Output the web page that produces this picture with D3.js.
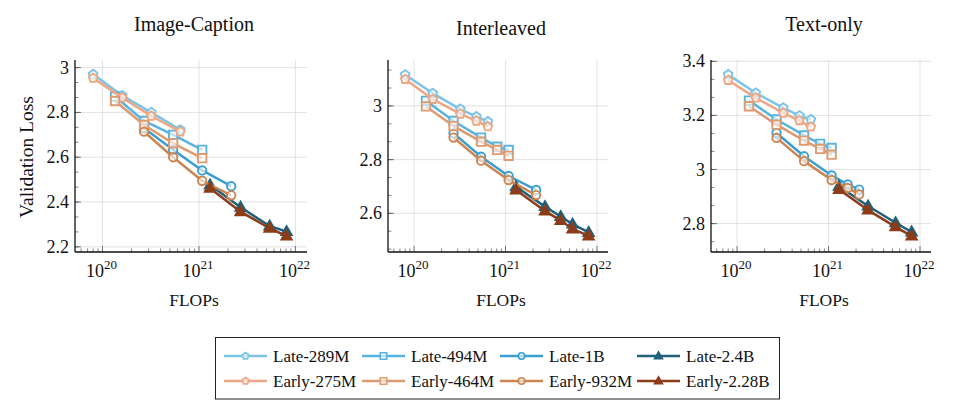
<!DOCTYPE html>
<html>
<head>
<meta charset="utf-8">
<script src="https://cdn.jsdelivr.net/npm/d3@7"></script>
<style>
  body { margin: 0; background: #fff; }
</style>
</head>
<body>
<div id="viz"></div>
<script>
// Chart data
const panelTitles = ["Image-Caption", "Interleaved", "Text-only"];
const seriesNames = ["Late-289M", "Late-494M", "Late-1B", "Late-2.4B",
                     "Early-275M", "Early-464M", "Early-932M", "Early-2.28B"];
const seriesColors = ["#7cc4e6", "#5ab3de", "#3b9ed0", "#21607a",
                      "#eea784", "#dd9b71", "#cc8450", "#8c3c18"];
const seriesMarkers = ["pentagon", "square", "circle", "triangle",
                       "pentagon", "square", "circle", "triangle"];

// FLOPs budgets per model size
const flops289 = [8e19, 1.6e20, 3.2e20, 4.8e20, 6.4e20];
const flops494 = [1.35e20, 2.7e20, 5.4e20, 8.1e20, 1.08e21];
const flops1B  = [2.7e20, 5.4e20, 1.08e21, 1.62e21, 2.16e21];
const flops2B  = [1.3e21, 2.7e21, 4.0e21, 5.4e21, 8.1e21];
const seriesFlops = [flops289, flops494, flops1B, flops2B, flops289, flops494, flops1B, flops2B];

// validation loss, one row per series (same order as seriesNames); null = not run
const lossImageCaption = [
  [2.970, 2.875, 2.800, null, 2.722],
  [2.871, 2.762, 2.700, null, 2.633],
  [2.729, 2.633, 2.541, null, 2.471],
  [2.476, 2.377, null, 2.293, 2.268],
  [2.953, 2.866, 2.784, null, 2.714],
  [2.851, 2.744, 2.662, null, 2.596],
  [2.714, 2.600, 2.495, null, 2.430],
  [2.462, 2.357, null, 2.283, 2.248]
];
const lossInterleaved = [
  [3.116, 3.047, 2.988, 2.960, 2.942],
  [3.019, 2.944, 2.882, 2.848, 2.836],
  [2.898, 2.811, 2.739, null, 2.687],
  [2.699, 2.625, 2.588, 2.560, 2.529],
  [3.099, 3.025, 2.970, 2.944, 2.923],
  [2.998, 2.925, 2.867, 2.836, 2.814],
  [2.882, 2.796, 2.724, null, 2.668],
  [2.687, 2.609, 2.573, 2.542, 2.516]
];
const lossTextOnly = [
  [3.351, 3.283, 3.228, 3.199, 3.185],
  [3.255, 3.185, 3.126, 3.095, 3.080],
  [3.135, 3.049, 2.978, 2.945, 2.926],
  [2.938, 2.865, null, 2.803, 2.769],
  [3.330, 3.265, 3.209, 3.181, 3.158],
  [3.234, 3.166, 3.107, 3.076, 3.055],
  [3.117, 3.031, 2.961, 2.932, 2.908],
  [2.926, 2.850, null, 2.788, 2.754]
];
const panelLoss = [lossImageCaption, lossInterleaved, lossTextOnly];

const yTicksImageCaption = [2.2, 2.4, 2.6, 2.8, 3];
const yTicksInterleaved = [2.6, 2.8, 3];
const yTicksTextOnly = [2.8, 3, 3.2, 3.4];
const panelYTicks = [yTicksImageCaption, yTicksInterleaved, yTicksTextOnly];
const panelYDomain = [[2.177, 3.034], [2.456, 3.171], [2.695, 3.405]];
const xTickPowers = [20, 21, 22];

// layout
const width = 955, height = 414;
const panels = [
  { left: 75,  right: 307, titleY: 31 },
  { left: 388, right: 608, titleY: 35 },
  { left: 711, right: 931, titleY: 31 }
];
const plotTop = 60, plotBottom = 252;
const xDomain = [Math.pow(10, 19.715), Math.pow(10, 22.12)];
const serif = "'Liberation Serif', 'DejaVu Serif', serif";

const svg = d3.select("#viz").append("svg")
  .attr("width", width)
  .attr("height", height)
  .attr("font-family", serif)
  .style("font-family", serif);

function markerPath(type, r) {
  if (type === "circle") return d3.symbol(d3.symbolCircle, Math.PI * r * r)();
  if (type === "square") return d3.symbol(d3.symbolSquare, (2 * r) * (2 * r))();
  if (type === "triangle") {
    const s = r * 1.3;
    return `M0,${-s}L${s * 0.95},${s * 0.65}L${-s * 0.95},${s * 0.65}Z`;
  }
  // pentagon
  const pts = d3.range(5).map(k => {
    const a = -Math.PI / 2 + k * 2 * Math.PI / 5;
    return [r * 1.1 * Math.cos(a), r * 1.1 * Math.sin(a)];
  });
  return "M" + pts.map(p => p.join(",")).join("L") + "Z";
}

function drawMarker(g, type, color, x, y, r, sw) {
  g.append("path")
    .attr("d", markerPath(type, r))
    .attr("transform", `translate(${x},${y})`)
    .attr("fill", type === "triangle" ? color : "#fff")
    .attr("fill-opacity", type === "triangle" ? 1 : 0.6)
    .attr("stroke", color)
    .attr("stroke-width", sw);
}

panels.forEach((p, pi) => {
  const x = d3.scaleLog().domain(xDomain).range([p.left, p.right]);
  const y = d3.scaleLinear().domain(panelYDomain[pi]).range([plotBottom, plotTop]);
  const g = svg.append("g");

  // grid
  const majorX = xTickPowers.map(e => Math.pow(10, e));
  g.append("g").selectAll("line").data(majorX).enter().append("line")
    .attr("x1", d => x(d)).attr("x2", d => x(d))
    .attr("y1", plotTop).attr("y2", plotBottom)
    .attr("stroke", "#dadada").attr("stroke-width", 0.8);
  g.append("g").selectAll("line").data(panelYTicks[pi]).enter().append("line")
    .attr("x1", p.left).attr("x2", p.right)
    .attr("y1", d => y(d)).attr("y2", d => y(d))
    .attr("stroke", "#dadada").attr("stroke-width", 0.8);

  // minor x ticks (inside)
  const minorX = [];
  [19, 20, 21, 22].forEach(e => d3.range(2, 10).forEach(m => {
    const v = m * Math.pow(10, e);
    if (v > xDomain[0] && v < xDomain[1]) minorX.push(v);
  }));
  g.append("g").selectAll("line").data(minorX).enter().append("line")
    .attr("x1", d => x(d)).attr("x2", d => x(d))
    .attr("y1", plotBottom).attr("y2", plotBottom - 3.5)
    .attr("stroke", "#555").attr("stroke-width", 0.7);
  g.append("g").selectAll("line").data(majorX).enter().append("line")
    .attr("x1", d => x(d)).attr("x2", d => x(d))
    .attr("y1", plotBottom).attr("y2", plotBottom - 6)
    .attr("stroke", "#555").attr("stroke-width", 0.8);

  // y ticks (major + 2 minor between)
  const yt = panelYTicks[pi];
  const step = yt[1] - yt[0];
  const minorY = [];
  for (let v = yt[0] - step; v <= yt[yt.length - 1] + step; v += step / 3) {
    if (v > panelYDomain[pi][0] && v < panelYDomain[pi][1]) minorY.push(v);
  }
  g.append("g").selectAll("line").data(minorY).enter().append("line")
    .attr("x1", p.left).attr("x2", p.left + 3.5)
    .attr("y1", d => y(d)).attr("y2", d => y(d))
    .attr("stroke", "#555").attr("stroke-width", 0.7);
  g.append("g").selectAll("line").data(yt).enter().append("line")
    .attr("x1", p.left).attr("x2", p.left + 6)
    .attr("y1", d => y(d)).attr("y2", d => y(d))
    .attr("stroke", "#555").attr("stroke-width", 0.8);

  // axis lines
  g.append("line").attr("x1", p.left).attr("x2", p.left)
    .attr("y1", plotTop).attr("y2", plotBottom).attr("stroke", "#111").attr("stroke-width", 1.3);
  g.append("line").attr("x1", p.left).attr("x2", p.right)
    .attr("y1", plotBottom).attr("y2", plotBottom).attr("stroke", "#111").attr("stroke-width", 1.3);

  // tick labels
  g.append("g").selectAll("text").data(yt).enter().append("text")
    .attr("x", p.left - 6).attr("y", d => y(d) + 6)
    .attr("text-anchor", "end").attr("font-size", 18)
    .attr("fill", "#111")
    .text(d => d3.format("~g")(d));
  const xl = g.append("g").selectAll("text").data(xTickPowers).enter().append("text")
    .attr("x", d => x(Math.pow(10, d)) - 1).attr("y", 277)
    .attr("text-anchor", "middle").attr("font-size", 18)
    .attr("fill", "#111");
  xl.append("tspan").text("10");
  xl.append("tspan").attr("dy", -8).attr("font-size", 13).text(d => d);

  // titles
  g.append("text").attr("x", (p.left + p.right) / 2 + 3).attr("y", p.titleY)
    .attr("text-anchor", "middle").attr("font-size", 20).attr("fill", "#111")
    .text(panelTitles[pi]);
  g.append("text").attr("x", (p.left + p.right) / 2 + 3).attr("y", 306)
    .attr("text-anchor", "middle").attr("font-size", 17.5).attr("fill", "#111")
    .text("FLOPs");

  // series
  const line = d3.line().x(d => x(d[0])).y(d => y(d[1]));
  seriesNames.forEach((name, si) => {
    const pts = seriesFlops[si].map((f, k) => [f, panelLoss[pi][si][k]])
      .filter(d => d[1] !== null);
    const sg = g.append("g");
    sg.append("path").datum(pts)
      .attr("d", line)
      .attr("fill", "none")
      .attr("stroke", seriesColors[si])
      .attr("stroke-width", 2.5)
      .attr("stroke-linejoin", "round");
    pts.forEach(d => drawMarker(sg, seriesMarkers[si], seriesColors[si], x(d[0]), y(d[1]), 4.2, 1.9));
  });
});

// y label
svg.append("text")
  .attr("transform", "translate(33,157) rotate(-90)")
  .attr("text-anchor", "middle").attr("font-size", 19.5).attr("fill", "#111")
  .text("Validation Loss");

// legend
const legend = svg.append("g");
legend.append("rect")
  .attr("x", 215.5).attr("y", 337.5).attr("width", 564).attr("height", 61.5)
  .attr("fill", "#fff").attr("stroke", "#222").attr("stroke-width", 1);
const legendCols = [224, 362, 500, 637];
const legendRows = [356, 381];
seriesNames.forEach((name, si) => {
  const cx = legendCols[si % 4], cy = legendRows[Math.floor(si / 4)];
  legend.append("line").attr("x1", cx).attr("x2", cx + 43)
    .attr("y1", cy).attr("y2", cy)
    .attr("stroke", seriesColors[si]).attr("stroke-width", 2.5);
  drawMarker(legend, seriesMarkers[si], seriesColors[si], cx + 21.5, cy, 3.2, 1.6);
  legend.append("text").attr("x", cx + 49).attr("y", cy + 6)
    .attr("font-size", 17).attr("fill", "#111").text(name);
});
</script>
</body>
</html>
